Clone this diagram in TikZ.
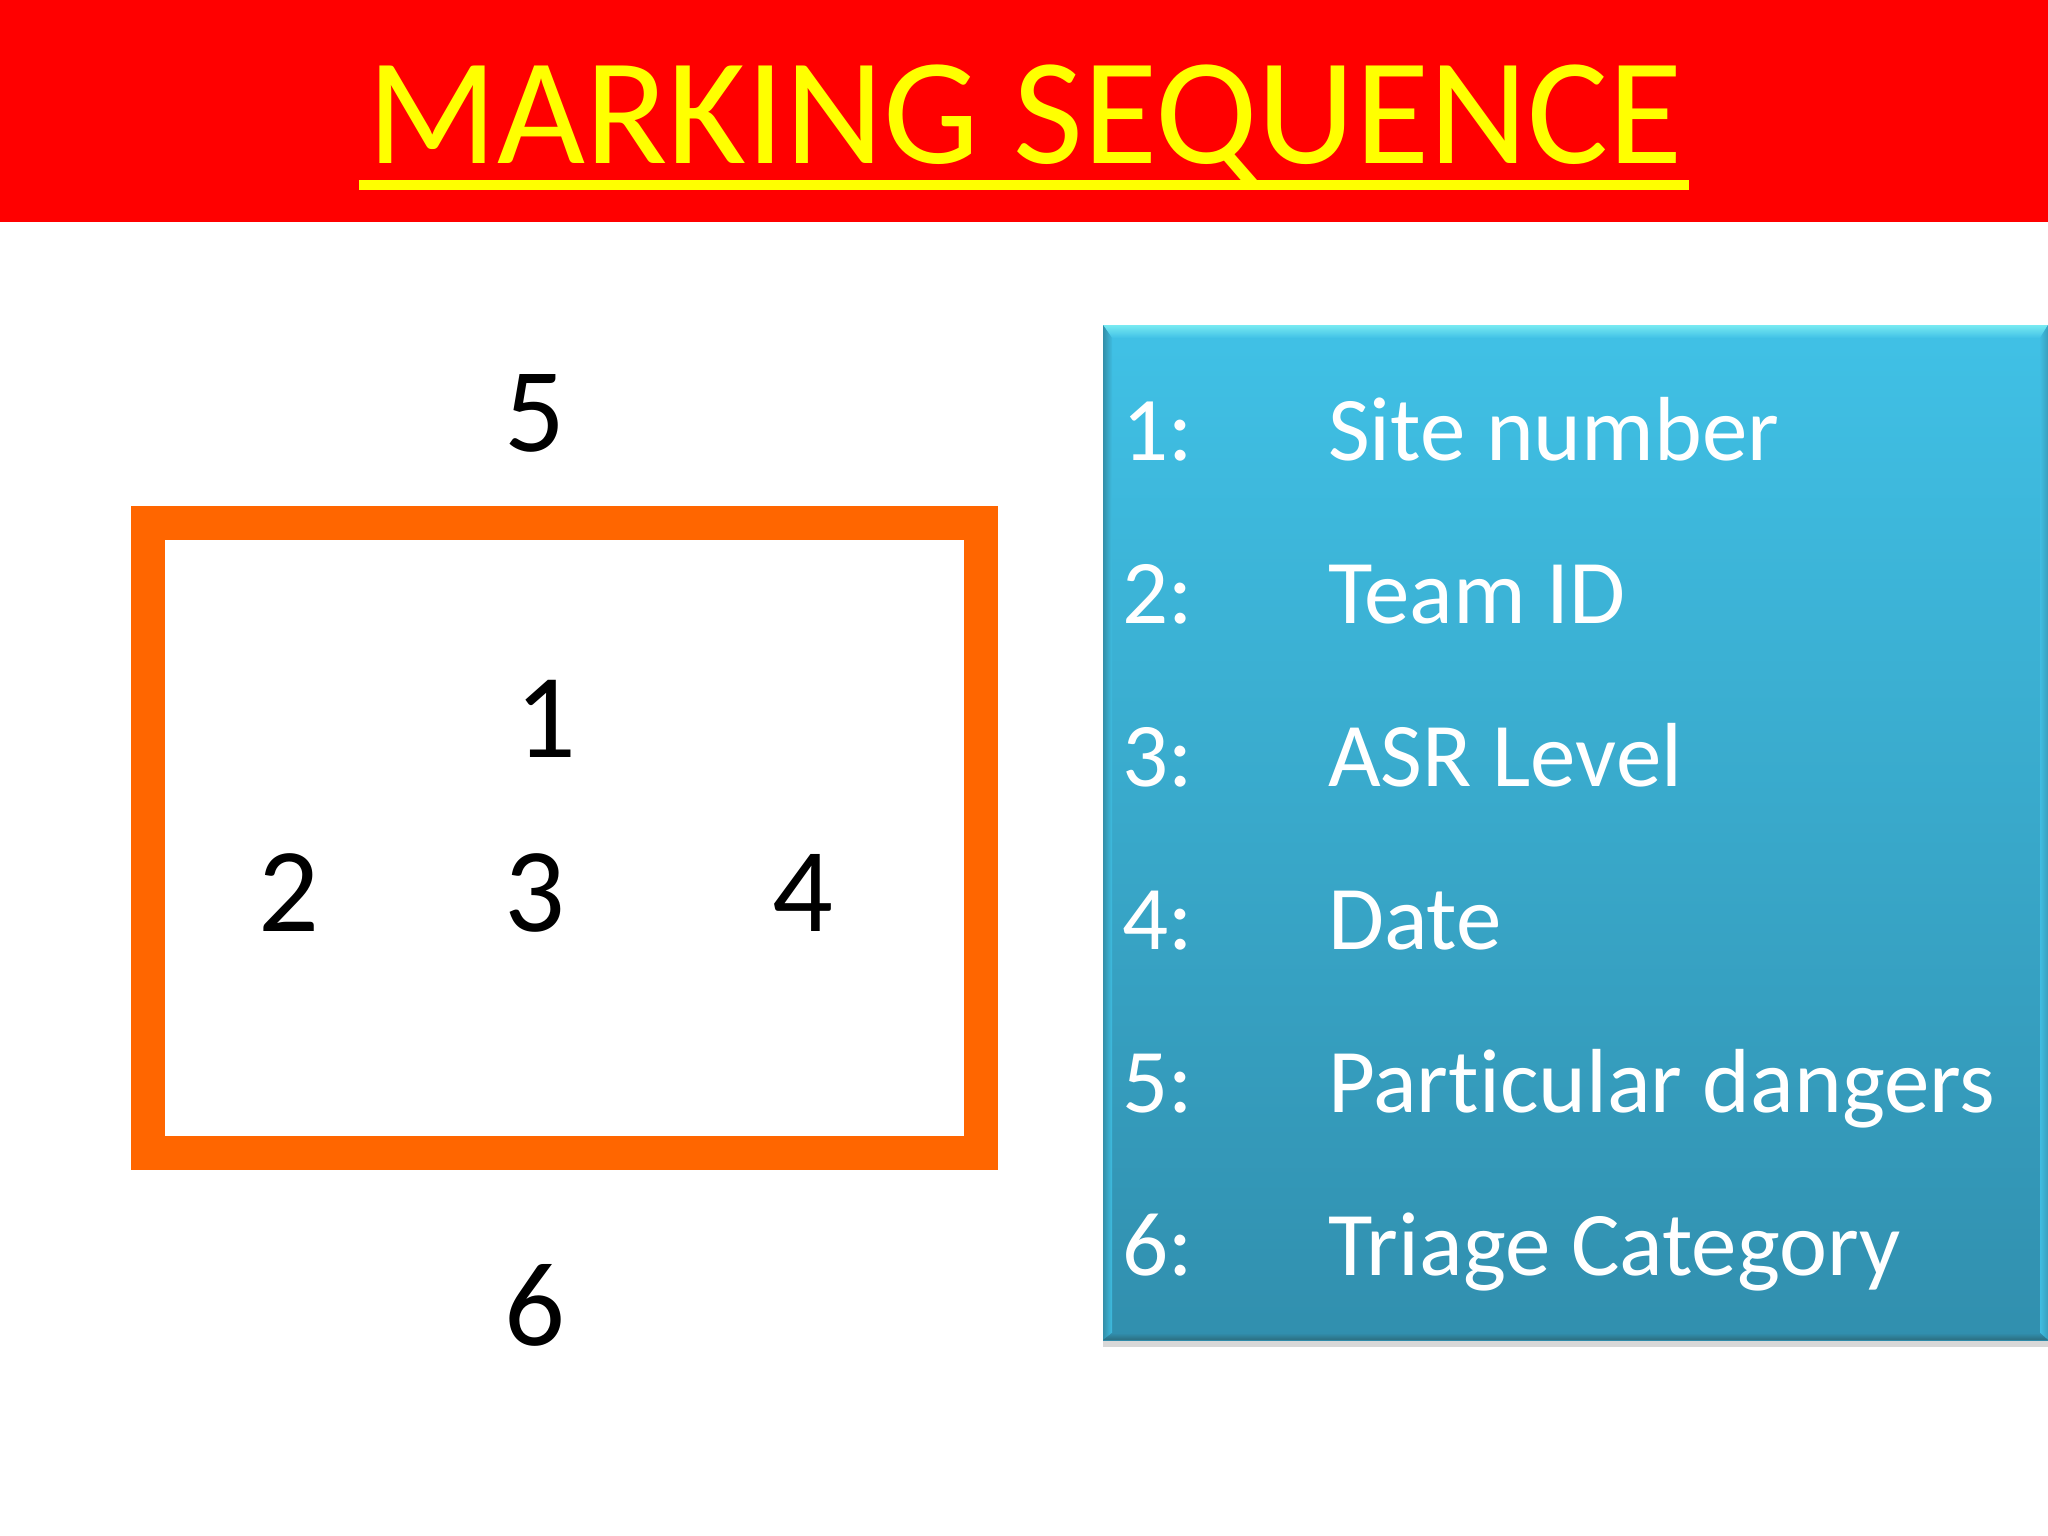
\documentclass[tikz,border=0pt]{standalone}
\usepackage{fontspec}
\setmainfont{Carlito}[RawFeature=-liga]
\usetikzlibrary{shadows}
\definecolor{bandred}{HTML}{FF0000}
\definecolor{titleyellow}{HTML}{FFFF00}
\definecolor{frameorange}{HTML}{FF6600}
\definecolor{paneltop}{HTML}{40C1E6}
\definecolor{panelbot}{HTML}{318FAE}
\definecolor{bevel}{HTML}{78EAF2}
\definecolor{paneledge}{HTML}{2C6E80}
\tikzset{
  digit/.style={anchor=base, inner sep=0pt, font=\fontsize{120pt}{130pt}\selectfont, text=black},
  itemnum/.style={anchor=base west, inner sep=0pt, font=\fontsize{91pt}{104pt}\selectfont, text=white},
  itemtext/.style={anchor=base west, inner sep=0pt, font=\fontsize{91pt}{104pt}\selectfont, text=white},
  frame/.style={draw=frameorange, line width=34pt, minimum width=833pt, minimum height=630pt, inner sep=0pt},
  panel/.style={anchor=north west, inner sep=0pt, minimum width=945pt, minimum height=1015pt,
    top color=paneltop, bottom color=panelbot, drop shadow={shadow xshift=0pt, shadow yshift=-7pt, opacity=0.25, fill=black!60}},
}
\begin{document}
\begin{tikzpicture}[x=1pt,y=-1pt]
\useasboundingbox (0,0) rectangle (2048,1536);
\fill[white] (0,0) rectangle (2048,1536);
% title band
\fill[bandred] (0,0) rectangle (2048,222);
\node[anchor=base, inner sep=0pt, text=titleyellow, font=\fontsize{152pt}{160pt}\selectfont] (title) at (1025,164) {MARKING SEQUENCE};
\fill[titleyellow] (359,180) rectangle (1689,190);
% frame
\node[frame] (box) at (564,838) {};
\node[digit] (d5) at (535,451) {5};
\node[digit] (d1) at (546,757) {1};
\node[digit] (d2) at (289,931) {2};
\node[digit] (d3) at (535,931) {3};
\node[digit] (d4) at (803,931) {4};
\node[digit] (d6) at (535,1345) {6};
% panel
\node[panel] (panel) at (1103,325) {};
\shade[top color=bevel, bottom color=paneltop] (1103,325) -- (2048,325) -- (2040,338) -- (1112,338) -- cycle;
\shade[left color=paneledge!60!paneltop, right color=paneltop!90!panelbot] (1103,325) -- (1112,338) -- (1112,1333) -- (1103,1340) -- cycle;
\shade[left color=paneltop!90!panelbot, right color=paneledge!40!paneltop] (2040,338) -- (2048,325) -- (2048,1340) -- (2040,1333) -- cycle;
\shade[top color=panelbot, bottom color=paneledge] (1112,1333) -- (2040,1333) -- (2048,1340) -- (1103,1340) -- cycle;
\foreach \n/\t [count=\i from 0] in {1/Site number,2/Team ID,3/ASR Level,4/Date,5/Particular dangers,6/Triage Category}{
  \node[itemnum] (n\n) at (1122,460+163*\i) {\n:};
  \node[itemtext] (t\n) at (1328,460+163*\i) {\t};
}
\end{tikzpicture}
\end{document}
